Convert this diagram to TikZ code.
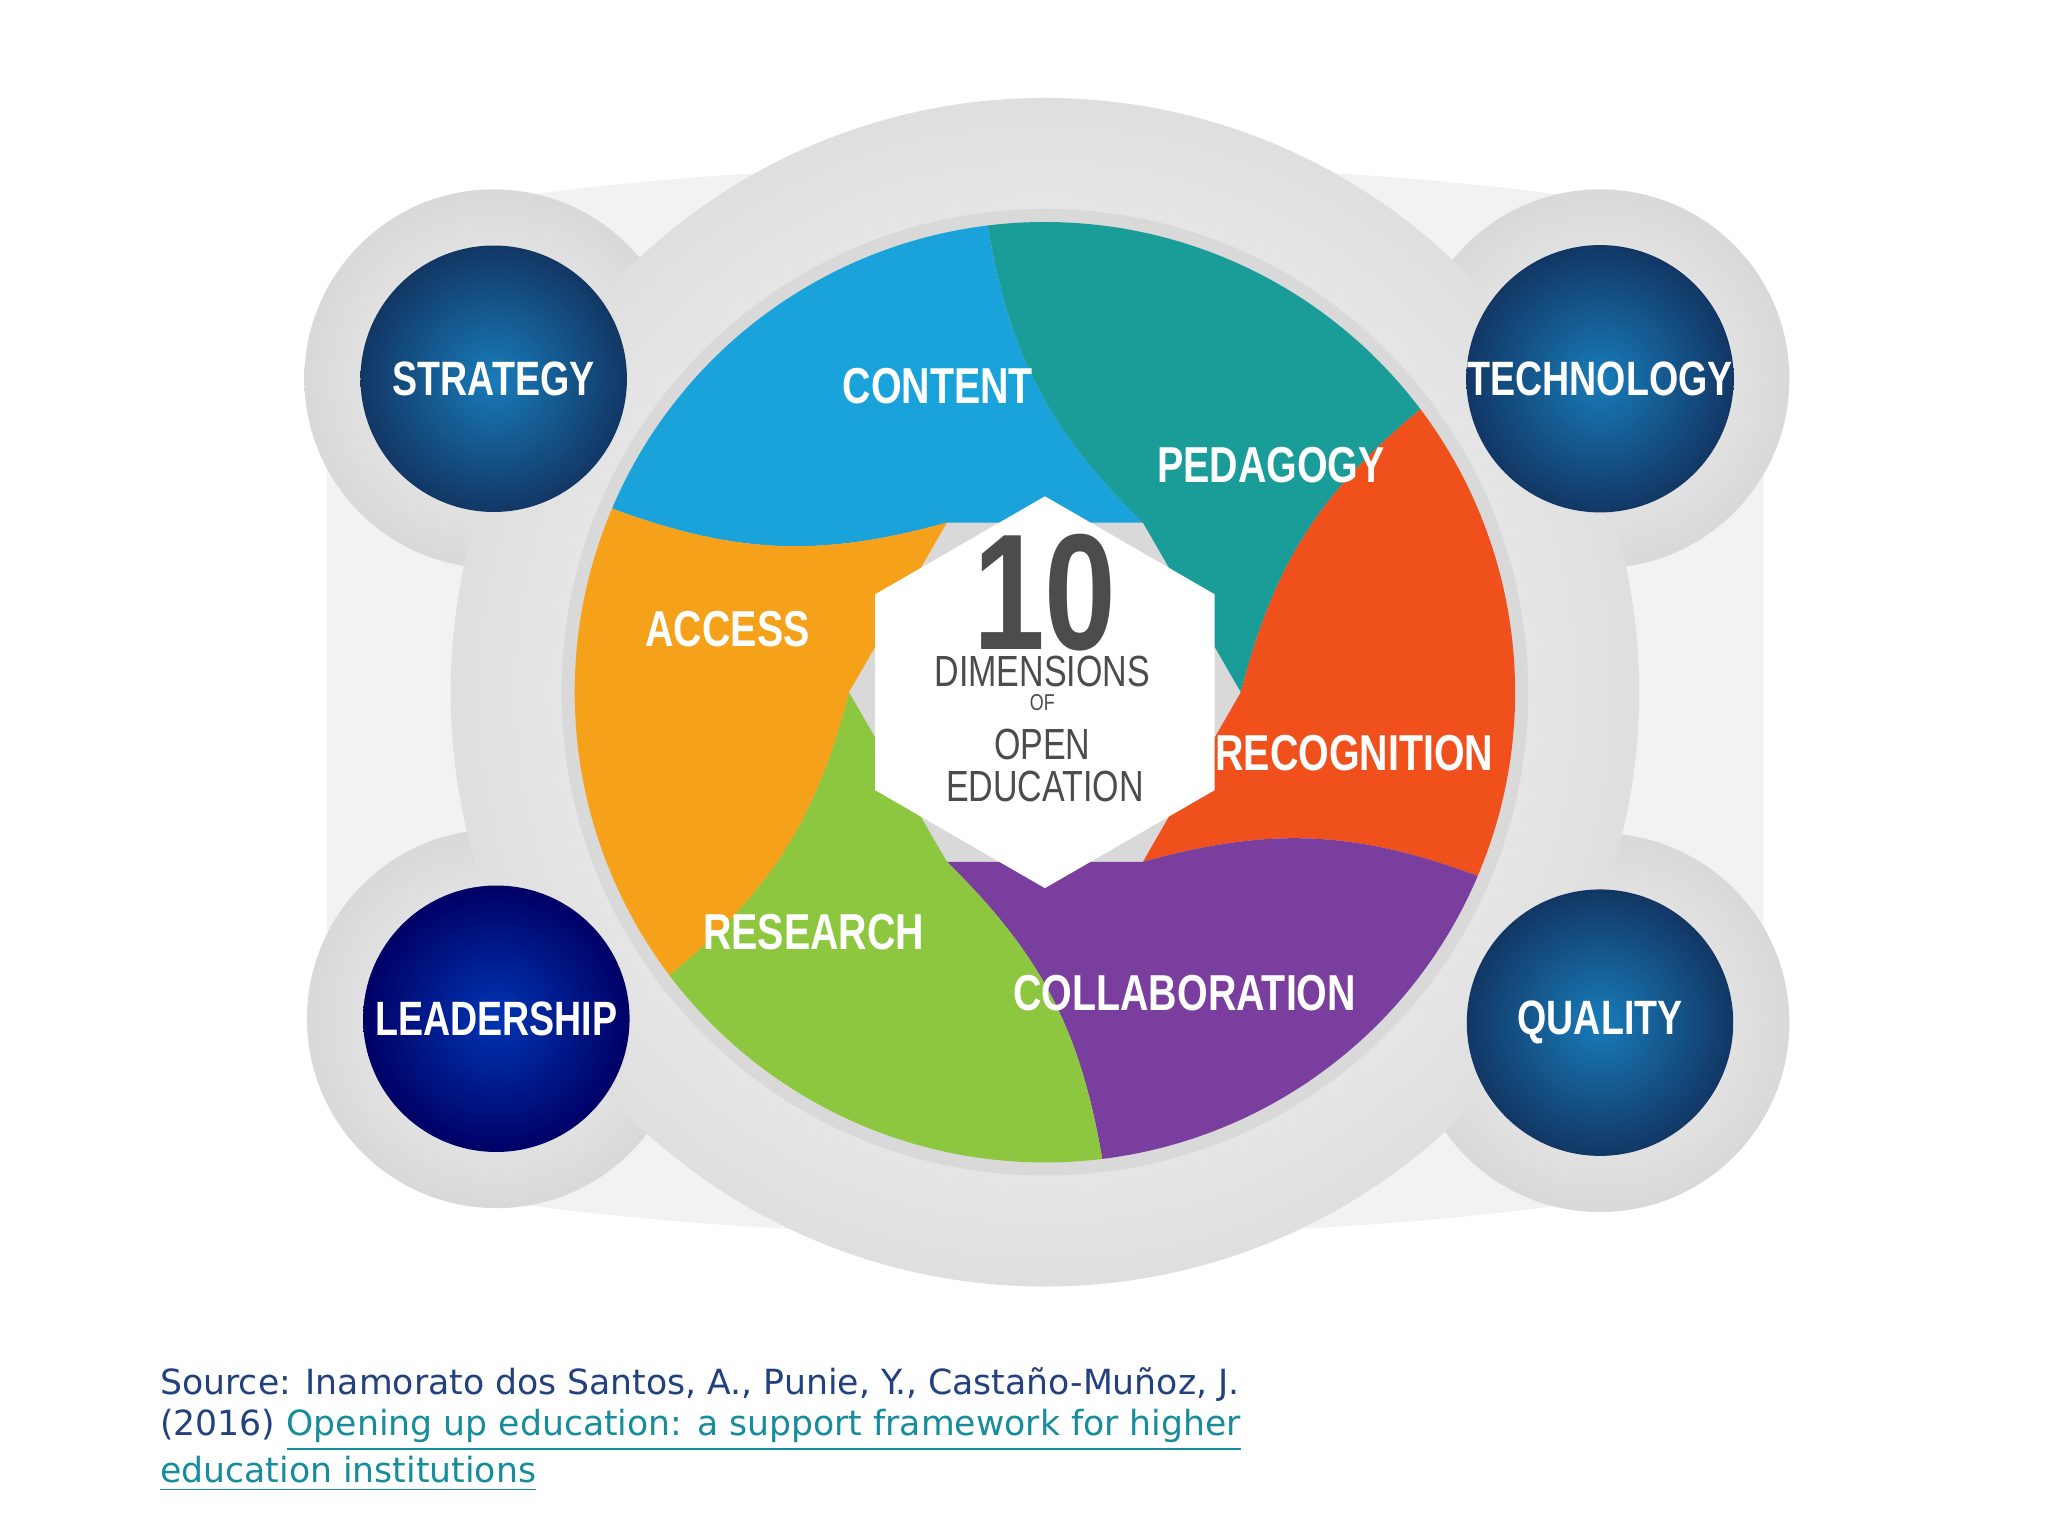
\documentclass[tikz,border=0pt]{standalone}
\usepackage{fontspec}
\setmainfont{DejaVu Sans}
\newfontfamily\condfont[FakeStretch=0.78]{Liberation Sans}
\usetikzlibrary{shapes.geometric,positioning}
\definecolor{contentblue}{HTML}{1AA3DA}
\definecolor{pedteal}{HTML}{1A9C98}
\definecolor{recred}{HTML}{F0501C}
\definecolor{colpurple}{HTML}{7A3F9E}
\definecolor{resgreen}{HTML}{8DC63F}
\definecolor{accorange}{HTML}{F5A11A}
\definecolor{ballblue}{HTML}{1E5BA8}
\definecolor{srcblue}{HTML}{23407F}
\definecolor{linkteal}{HTML}{168C9C}
\tikzset{
  petal/.style={text=white, font=\condfont\bfseries\fontsize{11}{11}\selectfont},
  ball/.style={circle, minimum size=2.04cm, inner sep=0pt, inner color=ballblue!80!cyan, outer color=ballblue!60!black,
    text=white, font=\condfont\bfseries\fontsize{10.5}{10.5}\selectfont},
  ring/.style={circle, minimum size=2.9cm, inner sep=0pt, inner color=gray!8, outer color=gray!30},
  hubtext/.style={text=black!70, font=\condfont\fontsize{9.5}{9.5}\selectfont, inner sep=0pt}
}
\begin{document}
\begin{tikzpicture}
\useasboundingbox (0,0) rectangle (15.68,11.76);
\fill[white] (0,0) rectangle (15.68,11.76);

% grey band behind the rings
\fill[gray!10] (3.6,10.2) .. controls (6,10.6) and (10,10.6) .. (12.4,10.2) -- (13.5,8.9) -- (13.5,3.9) -- (12.4,2.6) .. controls (10,2.2) and (6,2.2) .. (3.6,2.6) -- (2.5,3.9) -- (2.5,8.9) -- cycle;
\node (ringS) [ring] at (3.78,8.86) {};
\node (ringT) [ring] at (12.25,8.86) {};
\node (ringL) [ring] at (3.80,3.96) {};
\node (ringQ) [ring] at (12.25,3.93) {};

% big ring
\node (bigring) [circle, minimum size=9.1cm, inner sep=0pt, inner color=white, outer color=gray!25] at (8,6.46) {};
\fill[gray!30] (8,6.46) circle (3.7);

% petals
\begin{scope}[shift={(8,6.46)}]
\foreach \a/\col in {60/contentblue, 0/pedteal, -60/recred, -120/colpurple, 180/resgreen, 120/accorange}{
  \fill[\col] (\a:1.5) -- ({\a+60}:1.5) to[bend left=18] ({\a+97}:3.6)
    arc[start angle={\a+97}, end angle={\a+37}, radius=3.6] to[bend right=18] (\a:1.5) -- cycle;
}
\node (hub) [regular polygon, regular polygon sides=6, shape border rotate=30, minimum size=3cm, inner sep=0pt, fill=white] at (0,0) {};
\end{scope}

% petal labels
\node (content) [petal] at (7.18,8.8) {CONTENT};
\node (pedagogy) [petal] at (9.73,8.2) {PEDAGOGY};
\node (recognition) [petal] at (10.37,5.99) {RECOGNITION};
\node (collaboration) [petal] at (9.07,4.16) {COLLABORATION};
\node (research) [petal] at (6.23,4.62) {RESEARCH};
\node (access) [petal] at (5.57,6.94) {ACCESS};

% hub text
\node (ten) [text=black!70, font=\condfont\bfseries\fontsize{36}{36}\selectfont, inner sep=0pt] at (8.0,7.22) {10};
\node (dim) [hubtext] at (7.98,6.62) {DIMENSIONS};
\node (of) [hubtext, font=\condfont\fontsize{5}{5}\selectfont] at (7.98,6.38) {OF};
\node (open) [hubtext] at (7.98,6.06) {OPEN};
\node (educ) [hubtext] at (8.0,5.74) {EDUCATION};

% outer balls
\node (strategy) [ball] at (ringS) {STRATEGY};
\node (technology) [ball] at (ringT) {TECHNOLOGY};
\node (leadership) [ball, outer color=blue!40!black, inner color=blue!70!cyan!70!black] at (ringL) {LEADERSHIP};
\node (quality) [ball] at (ringQ) {QUALITY};

% source
\node (source) [anchor=north west, align=left, text=srcblue, font=\fontsize{7.55}{9}\selectfont, inner sep=0pt] at (1.22,1.3)
  {Source: Inamorato dos Santos, A., Punie, Y., Castaño-Muñoz, J.\\
   (2016) \textcolor{linkteal}{\underline{Opening up education: a support framework for higher}}\\
   \textcolor{linkteal}{\underline{education institutions}}};
\end{tikzpicture}
\end{document}
